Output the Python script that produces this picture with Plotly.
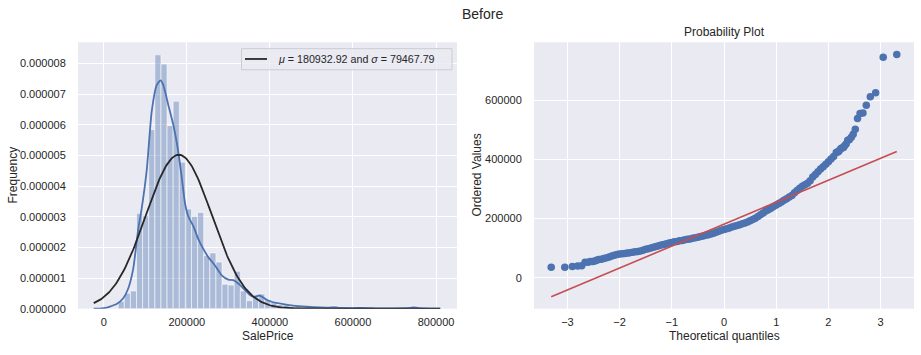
import numpy as np
import plotly.graph_objects as go

# ---------------- data ----------------
# histogram (density, units of 1e-6) : 49 equal bins between min and max SalePrice
hist_min = 34900
hist_max = 755000
hist_density_e6 = [0.24, 0.50, 0.58, 3.11, 3.03, 5.84, 8.28, 7.98, 5.97, 6.77,
                   4.78, 3.25, 3.01, 3.14, 1.73, 1.82, 1.52, 0.80, 0.77, 1.22,
                   0.58, 0.26, 0.39, 0.48, 0.29, 0.19, 0.14, 0.12, 0.05, 0.10,
                   0.05, 0.05, 0.0, 0.0, 0.05, 0.09, 0.0, 0.05, 0.0, 0.05,
                   0.05, 0.0, 0.0, 0.0, 0.0, 0.0, 0.0, 0.0, 0.09]

# KDE curve (SalePrice, density e-6)
kde_x = [-24000, -10000, 0, 15000, 31000, 47000, 59000, 71000, 83000, 91000,
         103500, 115500, 127600, 137000, 143500, 155500, 167500, 178000, 187700,
         195700, 203600, 215700, 227700, 239700, 251800, 267900, 284000, 300000,
         312000, 324000, 340000, 352000, 362000, 376000, 392000, 408000, 432000,
         456000, 489000, 520000, 535000, 551000, 570000, 600000, 625000, 660000,
         700000, 730000, 745000, 770000, 810000]
kde_y_e6 = [0.0, 0.005, 0.02, 0.07, 0.15, 0.34, 0.66, 1.30, 2.59, 3.23,
            4.51, 6.43, 7.29, 7.45, 7.29, 6.64, 6.0, 5.25, 4.29,
            3.44, 3.01, 2.69, 2.27, 1.95, 1.68, 1.41, 1.09, 0.95,
            0.93, 0.82, 0.61, 0.45, 0.39, 0.43, 0.29, 0.21, 0.15,
            0.10, 0.064, 0.04, 0.035, 0.04, 0.025, 0.02, 0.025, 0.012,
            0.01, 0.015, 0.035, 0.01, 0.0]

# fitted normal
mu = 180932.92
sigma = 79467.79
fit_support = [-24000, 810000]

# probability plot: theoretical quantiles and ordered values
qq_x = [-3.31, -3.05, -2.905, -2.803, -2.726, -2.662, -2.606, -2.558, -2.515, -2.475, -2.44,
        -2.40, -2.35, -2.30, -2.25, -2.20, -2.15, -2.10, -2.05, -2.00, -1.95, -1.90, -1.85,
        -1.80, -1.75, -1.70, -1.65, -1.60, -1.55, -1.50, -1.45, -1.40, -1.35, -1.30, -1.25,
        -1.20, -1.15, -1.10, -1.05, -1.00, -0.95, -0.90, -0.85, -0.80, -0.75, -0.70, -0.65,
        -0.60, -0.55, -0.50, -0.45, -0.40, -0.35, -0.30, -0.25, -0.20, -0.15, -0.10, -0.05,
        0.00, 0.05, 0.10, 0.15, 0.20, 0.25, 0.30, 0.35, 0.40, 0.45, 0.50, 0.55,
        0.60, 0.65, 0.70, 0.75, 0.80, 0.85, 0.90, 0.95, 1.00, 1.05, 1.10, 1.15,
        1.20, 1.25, 1.30, 1.35, 1.40, 1.45, 1.50, 1.55, 1.60, 1.65, 1.70, 1.75,
        1.80, 1.85, 1.90, 1.95, 2.00, 2.05, 2.10, 2.15,
        2.17, 2.19, 2.21, 2.24, 2.26, 2.29, 2.31, 2.34, 2.37, 2.40, 2.44, 2.475,
        2.515, 2.558, 2.606, 2.662, 2.726, 2.803, 2.905, 3.05, 3.31]
qq_y = [34900, 35311, 37900, 39300, 40000, 52000, 52500, 55000, 55000, 55993, 58500,
        61000, 62500, 64500, 67000, 70000, 73000, 76000, 78500, 80000, 81000, 82000, 83000,
        84500, 86000, 87500, 88500, 90500, 93000, 96000, 98000, 100000, 102500, 105000, 107500,
        110000, 112500, 115000, 117000, 119000, 121000, 122500, 124500, 126000, 128000, 129500, 131000,
        133000, 135000, 137000, 139000, 141000, 143000, 145000, 147500, 150000, 153500, 157000, 160000,
        163000, 165500, 168000, 171000, 174000, 176500, 179000, 182000, 185000, 188500, 192000, 196500,
        201000, 207000, 213000, 219000, 225000, 230000, 235000, 240500, 246000, 251000, 256000, 261500,
        267000, 272500, 278000, 287000, 295000, 302000, 309000, 314000, 319000, 328000, 340000, 349000,
        358000, 367000, 375000, 383500, 392000, 401000, 410000, 423000,
        424870, 426000, 430000, 437154, 438780, 440000, 446261, 451950, 465000, 466500, 475000, 485000,
        501837, 538000, 555000, 556581, 582933, 611657, 625000, 745000, 755000]
qq_slope = 74160
qq_intercept = 180921

left_xticks = [0, 200000, 400000, 600000, 800000]
left_yticks_e6 = [0, 1, 2, 3, 4, 5, 6, 7, 8]
right_xticks = [-3, -2, -1, 0, 1, 2, 3]
right_yticks = [0, 200000, 400000, 600000]

# ---------------- figure ----------------
W, H = 921, 355
BLUE = "#4C72B0"
RED = "#C44E52"
DARK = "#262626"
BG = "#EAEAF2"
FONT = "Liberation Sans, Arial, sans-serif"

nb = len(hist_density_e6)
bw = (hist_max - hist_min) / nb
edges = np.linspace(hist_min, hist_max, nb + 1)
centers = (edges[:-1] + edges[1:]) / 2
hist_density = [v * 1e-6 for v in hist_density_e6]
kde_y = [v * 1e-6 for v in kde_y_e6]

xs = np.linspace(fit_support[0], fit_support[1], 300)
pdf = np.exp(-0.5 * ((xs - mu) / sigma) ** 2) / (sigma * np.sqrt(2 * np.pi))
legend_text = "<i>μ</i> = %.2f and <i>σ</i> = %.2f" % (mu, sigma)

fig = go.Figure()
fig.add_trace(go.Bar(x=centers, y=hist_density, width=bw,
                     marker=dict(color="rgba(76,114,176,0.4)",
                                 line=dict(color="rgba(255,255,255,0.55)", width=1)),
                     showlegend=False, xaxis="x", yaxis="y"))
fig.add_trace(go.Scatter(x=kde_x, y=kde_y, mode="lines",
                         line=dict(color=BLUE, width=1.8, shape="spline", smoothing=0.6),
                         showlegend=False, xaxis="x", yaxis="y"))
fig.add_trace(go.Scatter(x=xs, y=pdf, mode="lines", line=dict(color="#282828", width=1.8),
                         name=legend_text, showlegend=False, xaxis="x", yaxis="y"))

fig.add_trace(go.Scatter(x=qq_x, y=qq_y, mode="markers",
                         marker=dict(color=BLUE, size=7.5, line=dict(width=0)),
                         showlegend=False, xaxis="x2", yaxis="y2"))
lx = [qq_x[0], qq_x[-1]]
ly = [qq_slope * v + qq_intercept for v in lx]
fig.add_trace(go.Scatter(x=lx, y=ly, mode="lines", line=dict(color=RED, width=1.6),
                         showlegend=False, xaxis="x2", yaxis="y2"))

def px_x(p):
    return p / W

def px_y(p):
    return 1 - p / H

L1, R1, L2, R2, T, B = 78, 457, 534, 914, 43, 314

axis_common = dict(showline=False, zeroline=False, gridcolor="white", gridwidth=1,
                   tickfont=dict(family=FONT, size=11, color=DARK),
                   ticks="outside", tickcolor="rgba(0,0,0,0)")

fig.update_layout(
    width=W, height=H,
    margin=dict(l=0, r=0, t=0, b=0),
    paper_bgcolor="white", plot_bgcolor=BG,
    font=dict(family=FONT, color=DARK),
    showlegend=False,
    xaxis=dict(domain=[px_x(L1), px_x(R1)], range=[-61900, 850400],
               tickvals=left_xticks, ticktext=[str(v) for v in left_xticks],
               ticklen=3, anchor="y", **axis_common),
    yaxis=dict(domain=[px_y(B), px_y(T)], range=[0, 8.69e-6],
               tickvals=[v * 1e-6 for v in left_yticks_e6],
               ticktext=["%.6f" % (v * 1e-6) for v in left_yticks_e6],
               ticklen=9, anchor="x", **axis_common),
    xaxis2=dict(domain=[px_x(L2), px_x(R2)], range=[-3.64, 3.64],
                tickvals=right_xticks,
                ticktext=[("\u2212%d" % -v) if v < 0 else str(v) for v in right_xticks],
                ticklen=3, anchor="y2", **axis_common),
    yaxis2=dict(domain=[px_y(B), px_y(T)], range=[-104950, 795950],
                tickvals=right_yticks, ticktext=[str(v) for v in right_yticks],
                ticklen=9, anchor="x2", **axis_common),
)

# legend box drawn like matplotlib's (only the fitted normal is in it)
shapes = [
    dict(type="rect", xref="paper", yref="paper",
         x0=px_x(241.5), x1=px_x(452), y0=px_y(71), y1=px_y(49.5),
         fillcolor="rgba(234,234,242,0.8)", line=dict(color="#CCCCCC", width=1), layer="above"),
    dict(type="line", xref="paper", yref="paper",
         x0=px_x(245), x1=px_x(267), y0=px_y(60), y1=px_y(60),
         line=dict(color="#282828", width=1.8), layer="above"),
]
fig.update_layout(shapes=shapes)

ann = []
def label(text, x, y, size=12, angle=0, xanchor="center"):
    ann.append(dict(text=text, x=px_x(x), y=px_y(y), xref="paper", yref="paper",
                    showarrow=False, textangle=angle, xanchor=xanchor, yanchor="middle",
                    font=dict(family=FONT, size=size, color=DARK)))

label("Before", 482, 14, size=14)
label("Probability Plot", 724, 33, size=12)
label("SalePrice", 267.5, 342)
label("Theoretical quantiles", 724, 342)
label("Frequency", 13, 178.5, angle=-90)
label("Ordered Values", 477, 178.5, angle=-90)
label(legend_text, 276, 60, size=10.7, xanchor="left")
fig.update_layout(annotations=ann)

fig.write_html("out.html", config={"displayModeBar": False},
               post_script="document.body.style.margin='0';")
